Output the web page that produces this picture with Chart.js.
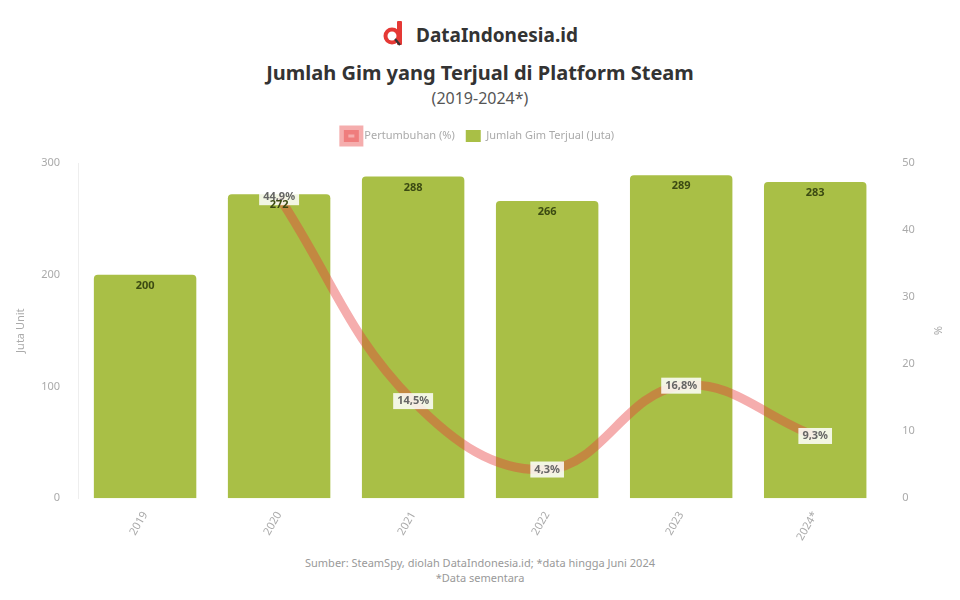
<!DOCTYPE html>
<html>
<head>
<meta charset="utf-8">
<script src="https://cdn.jsdelivr.net/npm/chart.js@4.4.1/dist/chart.umd.min.js"></script>
<style>
  html, body { margin: 0; padding: 0; background: #fff; }
  body { width: 960px; height: 600px; position: relative; font-family: "Source Sans Pro", "Noto Sans", sans-serif; overflow: hidden; }
  #brand { position: absolute; top: 21px; left: 0; width: 960px; text-align: center; font-size: 19px; font-weight: 700; color: #333; }
  #brand svg { vertical-align: -5px; margin-right: 10px; }
  #title { position: absolute; top: 59px; left: 0; width: 960px; text-align: center; font-size: 20px; font-weight: 700; color: #333; }
  #subtitle { position: absolute; top: 87px; left: 0; width: 960px; text-align: center; font-size: 16px; color: #555; }
  #wrap { position: absolute; top: 119px; left: 0; width: 960px; height: 427px; }
  #source { position: absolute; top: 555px; left: 0; width: 960px; text-align: center; font-size: 11px; color: #999; line-height: 15px; }
</style>
</head>
<body>
<div id="brand"><svg width="24" height="26" viewBox="0 0 24 26"><rect x="15" y="0" width="5" height="24" rx="1" fill="#e53935"/><circle cx="10" cy="15" r="8.5" fill="#e53935"/><circle cx="10" cy="15" r="4.5" fill="#fff"/><line x1="13" y1="18" x2="18" y2="24" stroke="#333" stroke-width="2.2"/></svg>DataIndonesia.id</div>
<div id="title">Jumlah Gim yang Terjual di Platform Steam</div>
<div id="subtitle">(2019-2024*)</div>
<div id="wrap"><canvas id="chart"></canvas></div>
<div id="source">Sumber: SteamSpy, diolah DataIndonesia.id; *data hingga Juni 2024<br>*Data sementara</div>
<script>
// categories and series
var years = ['2019', '2020', '2021', '2022', '2023', '2024*'];
var gamesSold = [200, 272, 288, 266, 289, 283];        // juta unit
var growth = [null, 44.9, 14.5, 4.3, 16.8, 9.3];       // persen
var leftTicks = [0, 100, 200, 300];
var rightTicks = [0, 10, 20, 30, 40, 50];

var fontFamily = '"Source Sans Pro", "Noto Sans", sans-serif';

// simple value labels (bars: inside top, line: white box)
var valueLabels = {
    id: 'valueLabels',
    afterDatasetsDraw: function(chart) {
        var ctx = chart.ctx;
        ctx.save();
        ctx.font = 'bold 11px ' + fontFamily;
        ctx.textAlign = 'center';
        ctx.textBaseline = 'middle';
        chart.data.datasets.forEach(function(ds, i) {
            var meta = chart.getDatasetMeta(i);
            meta.data.forEach(function(el, j) {
                var v = ds.data[j];
                if (v === null) return;
                var txt = ds.type === 'line' ? v.toFixed(1).replace('.', ',') + '%' : String(v);
                if (ds.type === 'line') {
                    var w = ctx.measureText(txt).width + 8;
                    ctx.fillStyle = 'rgba(255,255,255,0.85)';
                    ctx.fillRect(el.x - w / 2, el.y - 8, w, 16);
                    ctx.fillStyle = '#666';
                    ctx.fillText(txt, el.x, el.y);
                } else {
                    ctx.fillStyle = '#3b4a12';
                    ctx.fillText(txt, el.x, el.y + 11);
                }
            });
        });
        ctx.restore();
    }
};

// extra room under the legend
var legendGap = {
    id: 'legendGap',
    beforeInit: function(chart) {
        var fit = chart.legend.fit;
        chart.legend.fit = function() {
            fit.bind(chart.legend)();
            this.height += 11;
        };
    }
};

var ctx = document.getElementById('chart').getContext('2d');
new Chart(ctx, {
    data: {
        labels: years,
        datasets: [{
            type: 'line',
            label: 'Pertumbuhan (%)',
            data: growth,
            yAxisID: 'y1',
            borderColor: 'rgba(232, 60, 60, 0.42)',
            backgroundColor: 'rgba(232, 60, 60, 0.42)',
            borderWidth: 9,
            tension: 0.4,
            pointRadius: 0,
            order: 0
        }, {
            type: 'bar',
            label: 'Jumlah Gim Terjual (Juta)',
            data: gamesSold,
            yAxisID: 'y',
            backgroundColor: '#a9bf46',
            borderRadius: 4,
            barPercentage: 0.78,
            categoryPercentage: 0.98,
            order: 1
        }]
    },
    options: {
        responsive: true,
        maintainAspectRatio: false,
        animation: false,
        layout: { padding: { left: 10, right: 12, top: 0, bottom: 0 } },
        plugins: {
            legend: {
                position: 'top',
                labels: { boxWidth: 15, boxHeight: 12, color: '#aaa', font: { family: fontFamily, size: 11 }, padding: 11 }
            },
            tooltip: { enabled: false }
        },
        scales: {
            x: {
                grid: { display: false },
                border: { display: false },
                ticks: { color: '#aaa', font: { family: fontFamily, size: 11 }, minRotation: 60, maxRotation: 60 }
            },
            y: {
                position: 'left',
                min: 0, max: 300,
                afterBuildTicks: function(axis) { axis.ticks = leftTicks.map(function(v) { return { value: v }; }); },
                grid: { display: false },
                border: { display: true, color: '#eee' },
                ticks: { color: '#aaa', font: { family: fontFamily, size: 11 }, padding: 10 },
                title: { display: true, text: 'Juta Unit', color: '#aaa', font: { family: fontFamily, size: 11 } }
            },
            y1: {
                position: 'right',
                min: 0, max: 50,
                afterBuildTicks: function(axis) { axis.ticks = rightTicks.map(function(v) { return { value: v }; }); },
                grid: { display: false },
                border: { display: false },
                ticks: { color: '#aaa', font: { family: fontFamily, size: 11 }, padding: 12 },
                title: { display: true, text: '%', color: '#aaa', font: { family: fontFamily, size: 11 } }
            }
        }
    },
    plugins: [valueLabels, legendGap]
});
</script>
</body>
</html>
